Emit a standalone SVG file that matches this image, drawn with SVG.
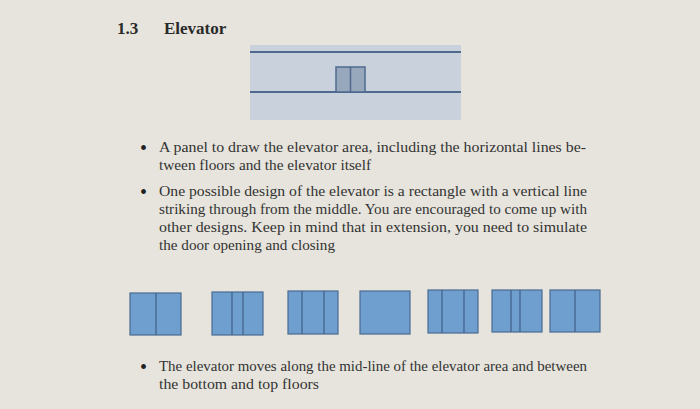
<svg xmlns="http://www.w3.org/2000/svg" width="700" height="409" viewBox="0 0 700 409">
<style>
.t{font-family:"Liberation Serif",serif;font-size:14px;fill:#333}
.h{font-family:"Liberation Serif",serif;font-size:17px;font-weight:bold;fill:#2a2a2a}
.b{font-family:"Liberation Serif",serif;font-size:20px;fill:#222}
.d{fill:#6f9fcf;stroke:#4a6a90;stroke-width:1.2}
.l{stroke:#3f5f85;stroke-width:1.2}
</style>
<rect width="700" height="409" fill="#e6e4dc"/>
<text class="h" x="117" y="34">1.3</text>
<text class="h" x="164" y="34">Elevator</text>
<g id="panel">
<rect x="250" y="45" width="211" height="75" fill="#c9d2dc"/>
<line x1="250" y1="52" x2="461" y2="52" stroke="#4f6a8e" stroke-width="2"/>
<line x1="250" y1="92" x2="461" y2="92" stroke="#4f6a8e" stroke-width="2"/>
<rect x="336" y="67" width="29" height="25" fill="#98a8bc" stroke="#4f6a8e" stroke-width="1.5"/>
<line x1="350.5" y1="67" x2="350.5" y2="92" stroke="#4f6a8e" stroke-width="1.5"/>
</g>
<g class="b">
<text x="140" y="155">•</text>
<text x="140" y="199">•</text>
<text x="140" y="374">•</text>
</g>
<g class="t">
<text x="159" y="152" textLength="427" lengthAdjust="spacingAndGlyphs">A panel to draw the elevator area, including the horizontal lines be-</text>
<text x="159" y="170" textLength="212" lengthAdjust="spacingAndGlyphs">tween floors and the elevator itself</text>
<text x="159" y="196" textLength="428" lengthAdjust="spacingAndGlyphs">One possible design of the elevator is a rectangle with a vertical line</text>
<text x="159" y="214" textLength="428" lengthAdjust="spacingAndGlyphs">striking through from the middle. You are encouraged to come up with</text>
<text x="159" y="232" textLength="428" lengthAdjust="spacingAndGlyphs">other designs. Keep in mind that in extension, you need to simulate</text>
<text x="159" y="250" textLength="176" lengthAdjust="spacingAndGlyphs">the door opening and closing</text>
<text x="159" y="371" textLength="428" lengthAdjust="spacingAndGlyphs">The elevator moves along the mid-line of the elevator area and between</text>
<text x="159" y="389" textLength="160" lengthAdjust="spacingAndGlyphs">the bottom and top floors</text>
</g>
<g id="d1"><rect class="d" x="130" y="293" width="51" height="42"/><line class="l" x1="156" y1="293" x2="156" y2="335"/></g>
<g id="d2"><rect class="d" x="212" y="292" width="51" height="43"/><line class="l" x1="232" y1="292" x2="232" y2="335"/><line class="l" x1="243" y1="292" x2="243" y2="335"/></g>
<g id="d3"><rect class="d" x="288" y="291" width="50" height="43"/><line class="l" x1="302" y1="291" x2="302" y2="334"/><line class="l" x1="324" y1="291" x2="324" y2="334"/></g>
<g id="d4"><rect class="d" x="360" y="291" width="50" height="43"/></g>
<g id="d5"><rect class="d" x="428" y="290" width="50" height="43"/><line class="l" x1="442" y1="290" x2="442" y2="333"/><line class="l" x1="464" y1="290" x2="464" y2="333"/></g>
<g id="d6"><rect class="d" x="492" y="290" width="50" height="42"/><line class="l" x1="511" y1="290" x2="511" y2="332"/><line class="l" x1="520" y1="290" x2="520" y2="332"/></g>
<g id="d7"><rect class="d" x="550" y="290" width="50" height="42"/><line class="l" x1="575" y1="290" x2="575" y2="332"/></g>
<g id="connectors"/>
</svg>
